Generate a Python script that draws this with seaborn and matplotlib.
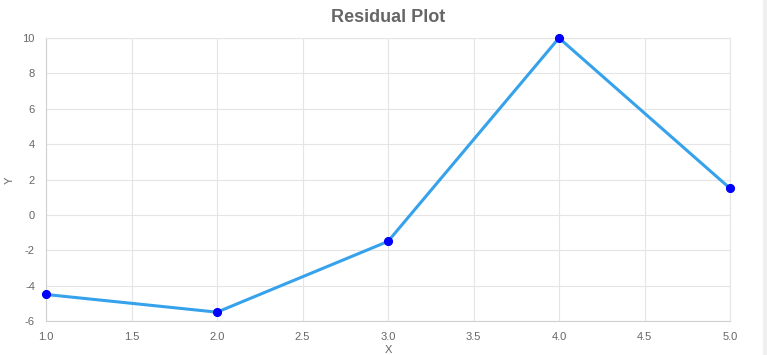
import matplotlib
matplotlib.use("Agg")
import matplotlib.pyplot as plt
import seaborn as sns
import pandas as pd

x_vals = [1, 2, 3, 4, 5]
residuals = [-4.5, -5.5, -1.5, 10, 1.5]
x_ticks = [1.0, 1.5, 2.0, 2.5, 3.0, 3.5, 4.0, 4.5, 5.0]
y_ticks = [-6, -4, -2, 0, 2, 4, 6, 8, 10]

df = pd.DataFrame({"X": x_vals, "Y": residuals})

sns.set_theme(style="white")
plt.rcParams['font.family'] = ['Liberation Sans', 'DejaVu Sans']

fig = plt.figure(figsize=(7.67, 3.55), dpi=100)
ax = fig.add_axes([46/767, 1-321/355, (730-46)/767, (321-38)/355])

sns.lineplot(data=df, x="X", y="Y", ax=ax, color="#36A2EB", linewidth=2.2,
             marker="o", markersize=5.8, markerfacecolor="#0000FF",
             markeredgecolor="#0000FF", clip_on=False, zorder=4)

ax.set_xlim(1, 5)
ax.set_ylim(-6, 10)
ax.set_xticks(x_ticks)
ax.set_yticks(y_ticks)
ax.set_xticklabels([f"{t:.1f}" for t in x_ticks])
ax.set_yticklabels([str(t) for t in y_ticks])
ax.grid(True, color="#e5e5e5", linewidth=0.8)
for s in ax.spines.values():
    s.set_color("#e5e5e5")
    s.set_linewidth(0.8)
ax.spines['left'].set_color("#d0d0d0")
ax.spines['bottom'].set_color("#d0d0d0")
ax.tick_params(axis='both', length=5, width=0.8, color="#e0e0e0",
               labelsize=8, labelcolor="#666666", pad=3)
ax.set_xlabel("")
ax.set_ylabel("")
fig.text(388/767, 1-345/355, "X", ha="center", va="top", fontsize=8, color="#666666")
fig.text(10/767, 1-180/355, "Y", ha="center", va="center", rotation=90,
         fontsize=8, color="#666666")
fig.text(388/767, 1-18/355, "Residual Plot", ha="center", va="center",
         fontsize=13, fontweight="bold", color="#666666")

# light scrollbar strip at right edge
fig.patches.append(plt.Rectangle((763/767, 0), 4/767, 1, transform=fig.transFigure,
                                 color="#f0f0f0", zorder=-1))

fig.savefig("out.png", dpi=100)
